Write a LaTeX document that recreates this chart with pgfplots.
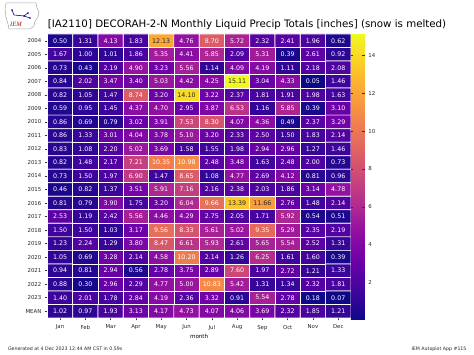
\documentclass[border=0pt]{standalone}
\usepackage{pgfplots}
\pgfplotsset{compat=1.18}
\usepackage{pgfplotstable}
\usepackage{fontspec}
\setmainfont{DejaVu Sans}
\newfontfamily\serifit{Liberation Serif}
\pgfplotsset{
  colormap={plasma}{rgb255=(13,8,135) rgb255=(65,4,157) rgb255=(106,0,168) rgb255=(143,13,164) rgb255=(177,42,144) rgb255=(204,71,120) rgb255=(225,100,98) rgb255=(242,132,75) rgb255=(252,166,54) rgb255=(252,206,37) rgb255=(240,249,33)}
}
\pgfplotstableread[row sep=\\]{
x y c\\
0 0 0.50\\ 1 0 1.31\\ 2 0 4.13\\ 3 0 1.83\\ 4 0 12.13\\ 5 0 4.76\\ 6 0 8.70\\ 7 0 5.72\\ 8 0 2.32\\ 9 0 2.41\\ 10 0 1.96\\ 11 0 0.62\\
0 1 1.67\\ 1 1 1.00\\ 2 1 1.01\\ 3 1 1.86\\ 4 1 5.35\\ 5 1 4.41\\ 6 1 5.85\\ 7 1 2.09\\ 8 1 5.31\\ 9 1 0.39\\ 10 1 2.61\\ 11 1 0.92\\
0 2 0.73\\ 1 2 0.43\\ 2 2 2.19\\ 3 2 4.90\\ 4 2 3.23\\ 5 2 5.56\\ 6 2 1.14\\ 7 2 4.09\\ 8 2 4.19\\ 9 2 1.11\\ 10 2 2.18\\ 11 2 2.08\\
0 3 0.84\\ 1 3 2.02\\ 2 3 3.47\\ 3 3 3.40\\ 4 3 5.03\\ 5 3 4.42\\ 6 3 4.25\\ 7 3 15.11\\ 8 3 3.04\\ 9 3 4.33\\ 10 3 0.05\\ 11 3 1.46\\
0 4 0.82\\ 1 4 1.05\\ 2 4 1.47\\ 3 4 8.74\\ 4 4 3.20\\ 5 4 14.10\\ 6 4 3.22\\ 7 4 2.37\\ 8 4 1.81\\ 9 4 1.91\\ 10 4 1.98\\ 11 4 1.63\\
0 5 0.59\\ 1 5 0.95\\ 2 5 1.45\\ 3 5 4.37\\ 4 5 4.70\\ 5 5 2.95\\ 6 5 3.87\\ 7 5 6.53\\ 8 5 1.16\\ 9 5 5.85\\ 10 5 0.39\\ 11 5 3.10\\
0 6 0.86\\ 1 6 0.69\\ 2 6 0.79\\ 3 6 3.02\\ 4 6 3.91\\ 5 6 7.53\\ 6 6 8.30\\ 7 6 4.07\\ 8 6 4.36\\ 9 6 0.49\\ 10 6 2.37\\ 11 6 3.29\\
0 7 0.86\\ 1 7 1.33\\ 2 7 3.01\\ 3 7 4.04\\ 4 7 3.78\\ 5 7 5.10\\ 6 7 3.20\\ 7 7 2.33\\ 8 7 2.50\\ 9 7 1.50\\ 10 7 1.83\\ 11 7 2.14\\
0 8 0.83\\ 1 8 1.08\\ 2 8 2.20\\ 3 8 5.02\\ 4 8 3.69\\ 5 8 1.58\\ 6 8 1.55\\ 7 8 1.98\\ 8 8 2.94\\ 9 8 2.96\\ 10 8 1.27\\ 11 8 1.46\\
0 9 0.82\\ 1 9 1.48\\ 2 9 2.17\\ 3 9 7.21\\ 4 9 10.35\\ 5 9 10.98\\ 6 9 2.48\\ 7 9 3.48\\ 8 9 1.63\\ 9 9 2.48\\ 10 9 2.00\\ 11 9 0.73\\
0 10 0.73\\ 1 10 1.50\\ 2 10 1.97\\ 3 10 6.90\\ 4 10 1.47\\ 5 10 8.65\\ 6 10 1.08\\ 7 10 4.77\\ 8 10 2.69\\ 9 10 4.12\\ 10 10 0.81\\ 11 10 0.96\\
0 11 0.46\\ 1 11 0.82\\ 2 11 1.37\\ 3 11 3.51\\ 4 11 5.91\\ 5 11 7.16\\ 6 11 2.16\\ 7 11 2.38\\ 8 11 2.03\\ 9 11 1.86\\ 10 11 3.14\\ 11 11 4.78\\
0 12 0.81\\ 1 12 0.79\\ 2 12 3.90\\ 3 12 1.75\\ 4 12 3.20\\ 5 12 6.04\\ 6 12 9.66\\ 7 12 13.39\\ 8 12 11.66\\ 9 12 2.76\\ 10 12 1.48\\ 11 12 2.14\\
0 13 2.53\\ 1 13 1.19\\ 2 13 2.42\\ 3 13 5.56\\ 4 13 4.46\\ 5 13 4.29\\ 6 13 2.75\\ 7 13 2.05\\ 8 13 1.71\\ 9 13 5.92\\ 10 13 0.54\\ 11 13 0.51\\
0 14 1.50\\ 1 14 1.50\\ 2 14 1.03\\ 3 14 3.17\\ 4 14 9.56\\ 5 14 8.33\\ 6 14 5.61\\ 7 14 5.02\\ 8 14 9.35\\ 9 14 5.29\\ 10 14 2.35\\ 11 14 2.19\\
0 15 1.23\\ 1 15 2.24\\ 2 15 1.29\\ 3 15 3.80\\ 4 15 8.47\\ 5 15 6.61\\ 6 15 5.93\\ 7 15 2.61\\ 8 15 5.65\\ 9 15 5.54\\ 10 15 2.52\\ 11 15 1.31\\
0 16 1.05\\ 1 16 0.69\\ 2 16 3.28\\ 3 16 2.14\\ 4 16 4.58\\ 5 16 10.20\\ 6 16 2.14\\ 7 16 1.26\\ 8 16 6.25\\ 9 16 1.61\\ 10 16 1.60\\ 11 16 0.39\\
0 17 0.94\\ 1 17 0.81\\ 2 17 2.94\\ 3 17 0.56\\ 4 17 2.78\\ 5 17 3.75\\ 6 17 2.89\\ 7 17 7.60\\ 8 17 1.97\\ 9 17 2.72\\ 10 17 1.21\\ 11 17 1.33\\
0 18 0.88\\ 1 18 0.30\\ 2 18 2.96\\ 3 18 2.29\\ 4 18 4.77\\ 5 18 5.00\\ 6 18 10.83\\ 7 18 5.42\\ 8 18 1.31\\ 9 18 1.34\\ 10 18 2.32\\ 11 18 1.81\\
0 19 1.40\\ 1 19 2.01\\ 2 19 1.78\\ 3 19 2.84\\ 4 19 4.19\\ 5 19 2.36\\ 6 19 3.32\\ 7 19 0.91\\ 8 19 5.54\\ 9 19 2.78\\ 10 19 0.18\\ 11 19 0.07\\
0 20 1.02\\ 1 20 0.97\\ 2 20 1.93\\ 3 20 3.13\\ 4 20 4.17\\ 5 20 4.73\\ 6 20 4.07\\ 7 20 4.06\\ 8 20 3.69\\ 9 20 2.32\\ 10 20 1.85\\ 11 20 1.21\\
}\data
\begin{document}
\begin{tikzpicture}[x=1pt,y=1pt]
\path[use as bounding box] (0,0) rectangle (474,355);
\begin{axis}[
  at={(47.4pt,37pt)}, anchor=south west,
  scale only axis, width=303.5pt, height=284pt,
  xmin=-0.5, xmax=11.5, ymin=-0.5, ymax=20.5,
  y dir=reverse,
  axis line style={draw=none},
  tick pos=left, tick align=outside,
  major tick length=2.5pt,
  tick style={black!80, line width=0.5pt},
  xtick={0,...,11},
  xticklabels={Jan,Feb,Mar,Apr,May,Jun,Jul,Aug,Sep,Oct,Nov,Dec},
  ytick={0,...,20},
  yticklabels={2004,2005,2006,2007,2008,2009,2010,2011,2012,2013,2014,2015,2016,2017,2018,2019,2020,2021,2022,2023,MEAN},
  tick label style={font=\fontsize{5.4pt}{6pt}\selectfont, text=black!85},
  xticklabel style={yshift=-1pt},
  xlabel={month},
  xlabel style={font=\fontsize{5.6pt}{6.5pt}\selectfont, yshift=3pt},
  colormap name=plasma,
  point meta min=0.05, point meta max=15.11,
  colorbar,
  colorbar style={
    at={(1,1)}, anchor=north west, xshift=19pt,
    width=14pt, height=286pt, scale only axis,
    ytick={2,4,...,14},
    yticklabel style={font=\fontsize{5.4pt}{6pt}\selectfont, text=black!85},
    /pgf/number format/assume math mode=true,
    axis line style={draw=none},
    major tick length=2.5pt,
    tick style={black!80, line width=0.5pt},
  },
  /pgf/number format/assume math mode=true,
  clip=false,
]
\addplot[matrix plot*, mesh/cols=12, point meta=explicit, draw=white, line width=0.7pt]
  table[x=x, y=y, meta=c] {\data};
\addplot[draw=none, mark=none,
  point meta=\thisrow{c},
  x filter/.expression={\thisrow{c}>11.2 ? nan : x},
  nodes near coords,
  nodes near coords align=center,
  every node near coord/.append style={font=\fontsize{6.3pt}{7pt}\selectfont, anchor=center, inner sep=0pt, text=white,
    /pgf/number format/fixed, /pgf/number format/fixed zerofill, /pgf/number format/precision=2}]
  table[x=x, y=y] {\data};
\addplot[draw=none, mark=none,
  point meta=\thisrow{c},
  x filter/.expression={\thisrow{c}>11.2 ? x : nan},
  nodes near coords,
  nodes near coords align=center,
  every node near coord/.append style={font=\fontsize{6.3pt}{7pt}\selectfont, anchor=center, inner sep=0pt, text=black!85,
    /pgf/number format/fixed, /pgf/number format/fixed zerofill, /pgf/number format/precision=2}]
  table[x=x, y=y] {\data};
\end{axis}
% title
\node[font=\fontsize{10.25pt}{12pt}\selectfont, anchor=west, inner sep=0pt] at (47.7,330) {[IA2110] DECORAH-2-N Monthly Liquid Precip Totals [inches] (snow is melted)};
% footer
\node[font=\fontsize{4.7pt}{5.5pt}\selectfont, anchor=west, text=black!85] at (4.5,6) {Generated at 4 Dec 2023 12:44 AM CST in 0.59s};
\node[font=\fontsize{4.7pt}{5.5pt}\selectfont, anchor=east, text=black!85] at (470,6) {IEM Autoplot App \#115};
% logo
\draw[gray!70, line width=0.5pt] (6,352) -- (36,352) -- (37,347) -- (39,343) -- (38,338) -- (35,334) -- (34,329) -- (30,326) -- (9,326) -- (8,331) -- (6,338) -- (5,346) -- cycle;
\draw[blue!60!black, line width=0.6pt] (12,345) -- (14,340) -- (24,339) -- (30,337);
\draw[blue!60!black, line width=0.6pt] (24,339) -- (28,342);
\fill[blue!60!black] (12,345) circle (0.9) (24,339) circle (0.9) (30,337) circle (0.9) (28,342) circle (0.9);
\node[font=\serifit\itshape\fontsize{6.5pt}{7pt}\selectfont, text=red!75!black] at (16,331) {IEM};
\end{tikzpicture}
\end{document}
